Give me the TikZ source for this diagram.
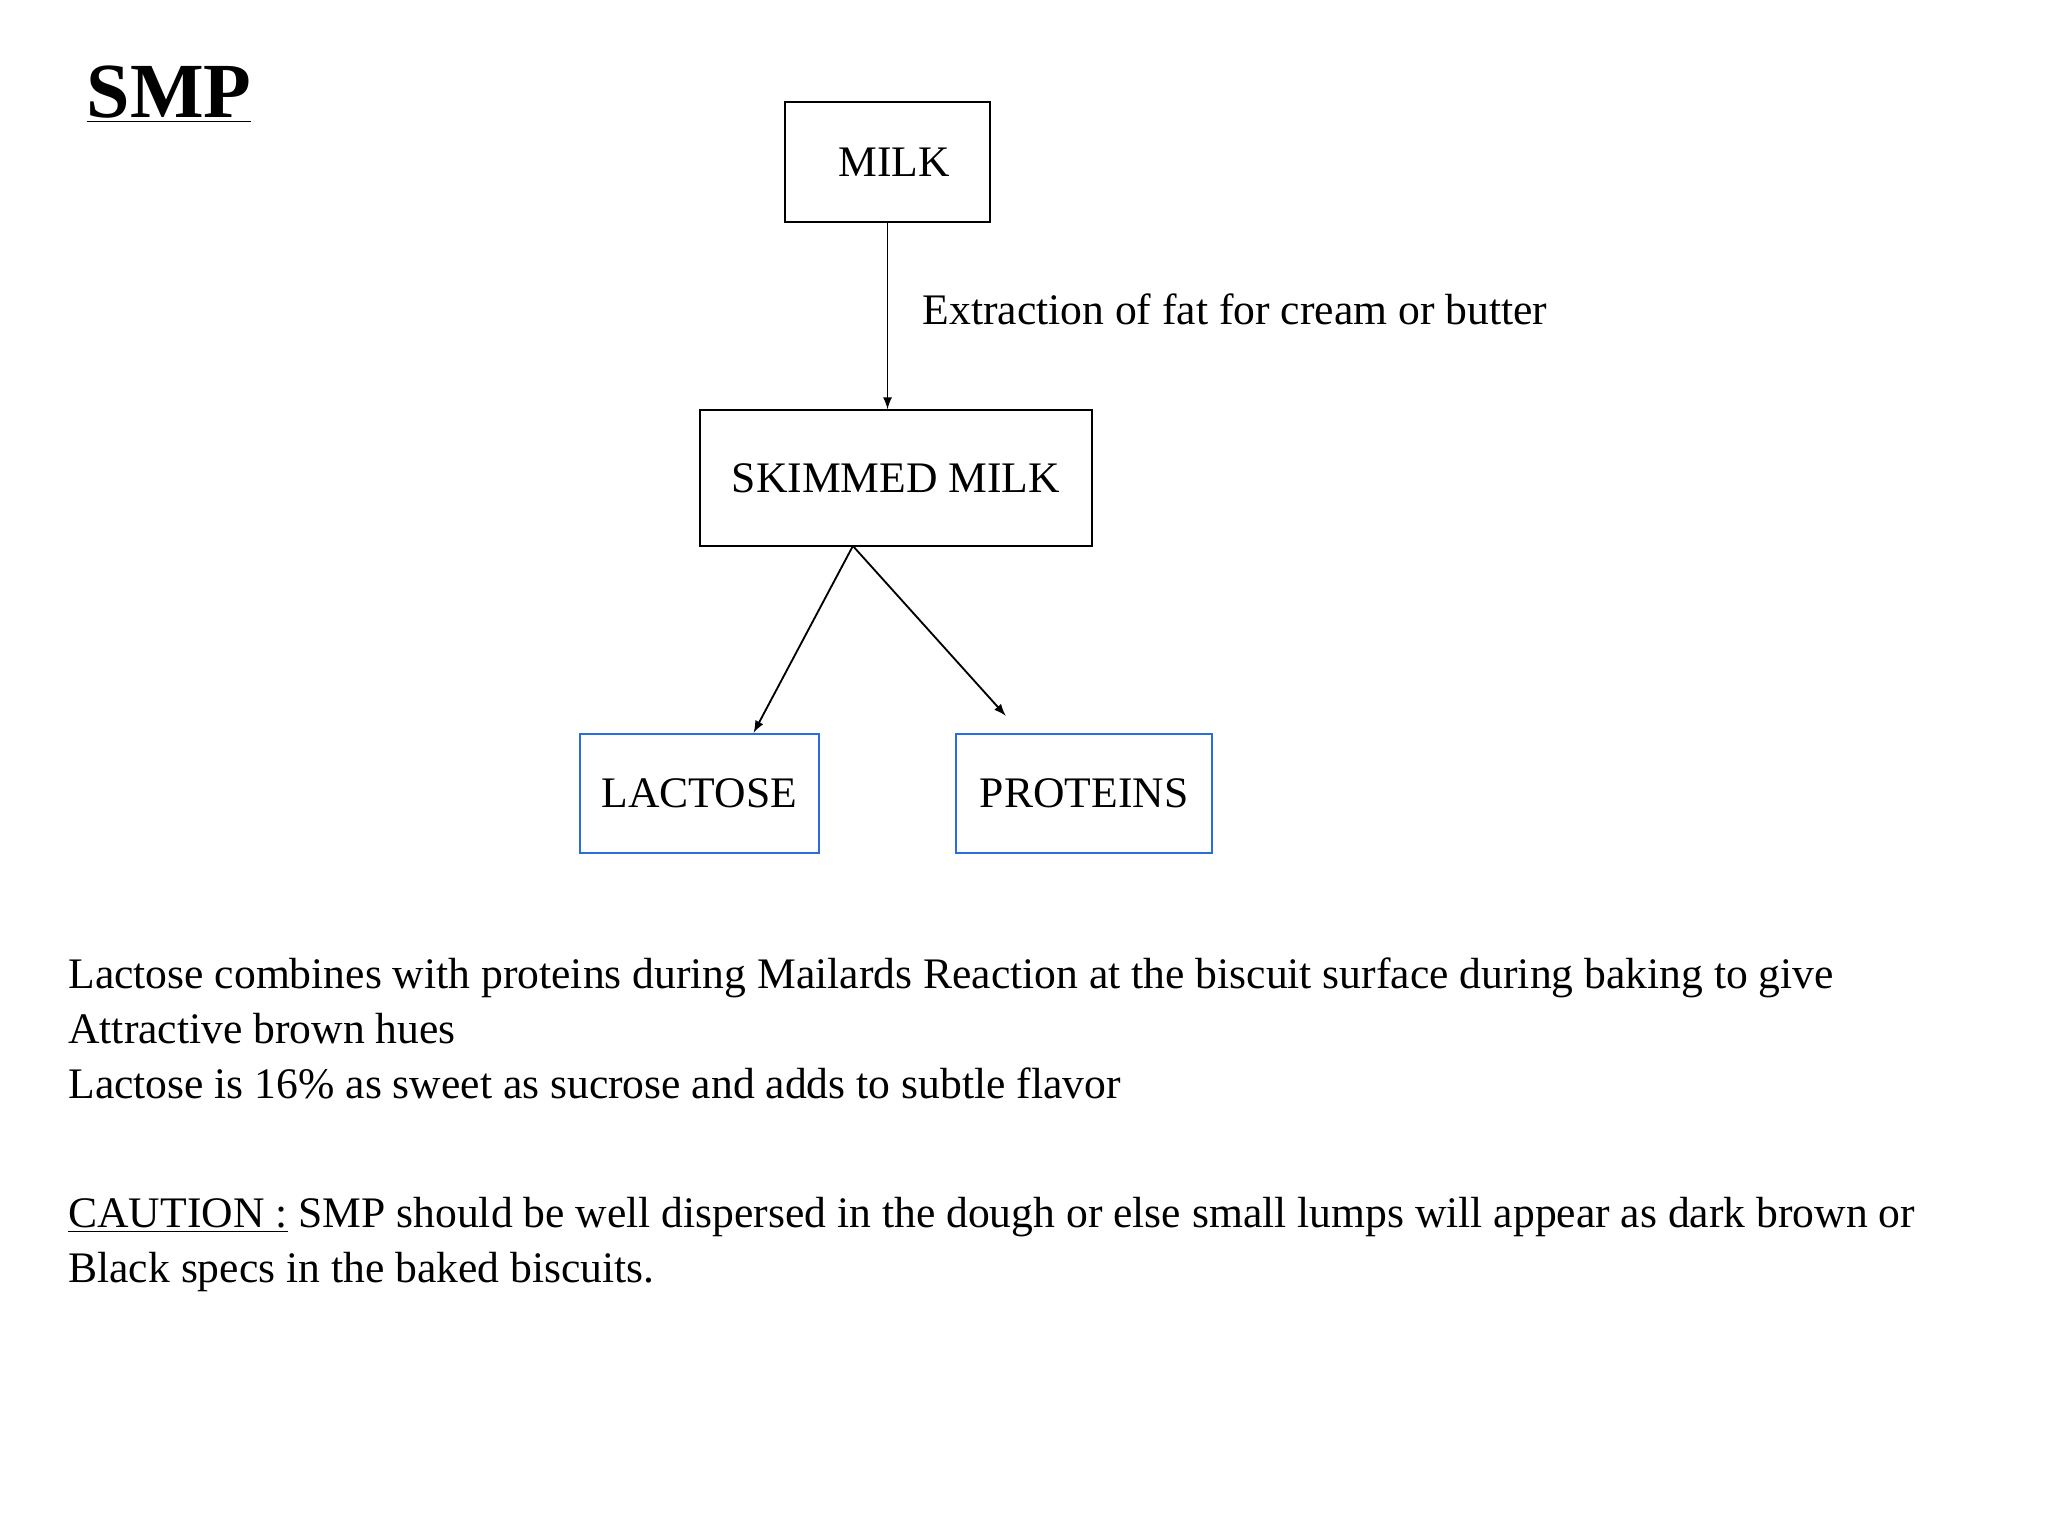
\documentclass[tikz,border=0pt]{standalone}
\usepackage{fontspec}
\setmainfont{Liberation Serif}
\begin{document}
\begin{tikzpicture}[x=0.02cm,y=-0.02cm,
  box/.style={draw,line width=0.8pt,minimum width=#1,inner sep=0pt},
  arr/.style={-latex,line width=0.8pt},
  txt/.style={anchor=base west,inner sep=0pt,font=\fontsize{19}{23}\selectfont}]
\useasboundingbox (0,0) rectangle (1568,1176);
\node[box,minimum width=3.14cm,minimum height=1.84cm,font=\fontsize{19}{23}\selectfont] (milk) at (679.5,124) {\hspace*{0.2cm}MILK};
\node[box,minimum width=6cm,minimum height=2.08cm,font=\fontsize{19}{23}\selectfont] (skim) at (686,366) {SKIMMED MILK};
\node[box,draw={rgb,255:red,40;green,110;blue,220},minimum width=3.66cm,minimum height=1.82cm,font=\fontsize{19}{23}\selectfont] (lac) at (535.5,607.5) {LACTOSE};
\node[box,draw={rgb,255:red,40;green,110;blue,220},minimum width=3.92cm,minimum height=1.82cm,font=\fontsize{19}{23}\selectfont] (pro) at (830,607.5) {PROTEINS};
\coordinate (s1) at (653,418);
\coordinate (l1) at (577,561);
\coordinate (p1) at (770,548);
\draw[arr] (milk.south) -- (skim.north -| milk.south);
\draw[arr] (s1) -- (l1);
\draw[arr] (s1) -- (p1);
\node[txt,anchor=west] (ext) at (706,237) {Extraction of fat for cream or butter};
\node[txt,font=\fontsize{34}{40}\selectfont\bfseries] (smp) at (66,90) {\underline{SMP}};
\node[txt] (t1) at (52,757) {Lactose combines with proteins during Mailards Reaction at the biscuit surface during baking to give};
\node[txt] (t2) at (52,799) {Attractive brown hues};
\node[txt] (t3) at (52,841) {Lactose is 16\% as sweet as sucrose and adds to subtle flavor};
\node[txt] (t4) at (52,940) {\underline{CAUTION :} SMP should be well dispersed in the dough or else small lumps will appear as dark brown or};
\node[txt] (t5) at (52,982) {Black specs in the baked biscuits.};
\end{tikzpicture}
\end{document}
